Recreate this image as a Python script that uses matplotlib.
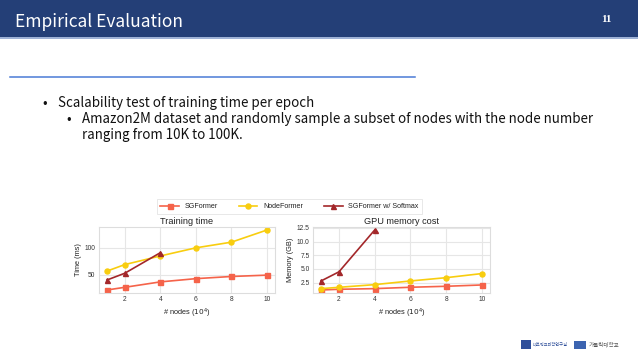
import matplotlib
matplotlib.use('Agg')
from matplotlib import pyplot as plt
from matplotlib.patches import Rectangle

W, H = 638, 359

# 데이터
nodes = [1, 2, 4, 6, 8, 10]
nodes_softmax = [1, 2, 4]
time_sgformer = [22, 27, 37, 43, 47, 49.5]
time_nodeformer = [57, 69, 85, 100, 110.5, 133]
time_softmax = [40.5, 53, 91]
mem_sgformer = [1.15, 1.28, 1.4, 1.65, 1.83, 2.07]
mem_nodeformer = [1.4, 1.64, 2.13, 2.8, 3.4, 4.15]
mem_softmax = [2.8, 4.46, 12.1]
series_names = ['SGFormer', 'NodeFormer', 'SGFormer w/ Softmax']
colors = ['#f5634a', '#f8cd0f', '#a3272a']
markers = ['s', 'o', '^']

slide_font = ['Noto Sans CJK KR', 'DejaVu Sans']
chart_font = ['Liberation Sans', 'DejaVu Sans']


def px(x, y, w=0, h=0):
    # 픽셀 좌표 -> figure 좌표 (y는 위에서 아래)
    return [x / W, 1 - (y + h) / H, w / W, h / H]


fig = plt.figure(figsize=(W / 100, H / 100), dpi=100)
fig.patch.set_facecolor('white')

## 제목 바
fig.patches.append(Rectangle((0, 1 - 37 / H), 1, 37 / H, transform=fig.transFigure,
                             facecolor='#243f77', edgecolor='none'))
fig.patches.append(Rectangle((0, 1 - 38.5 / H), 1, 1.5 / H, transform=fig.transFigure,
                             facecolor='#9fb2d6', edgecolor='none'))
fig.text(15 / W, 1 - 22 / H, 'Empirical Evaluation', color='white', fontsize=12.5,
         family=slide_font, va='center', ha='left')
fig.text(606 / W, 1 - 20 / H, '11', color='white', fontsize=8, family='Liberation Serif',
         fontweight='bold', va='center', ha='center')

# 파란 선
fig.add_artist(plt.Line2D([10 / W, 415 / W], [1 - 77 / H, 1 - 77 / H], color='#4a7ad6',
                          linewidth=1.1, transform=fig.transFigure))

# 본문
txt = dict(family=slide_font, color='#111111', fontsize=9.6, va='center', ha='left')
fig.text(42 / W, 1 - 103 / H, '•', **txt)
fig.text(58 / W, 1 - 103 / H, 'Scalability test of training time per epoch', **txt)
fig.text(66 / W, 1 - 119 / H, '•', **txt)
fig.text(82 / W, 1 - 119 / H,
         'Amazon2M dataset and randomly sample a subset of nodes with the node number', **txt)
fig.text(82 / W, 1 - 134.5 / H, 'ranging from 10K to 100K.', **txt)

# 차트
ax1 = fig.add_axes(px(99, 227, 176, 66))
ax2 = fig.add_axes(px(313, 227, 177, 66))

panels = [
    (ax1, [time_sgformer, time_nodeformer, time_softmax], 'Training time', 'Time (ms)', [50, 100]),
    (ax2, [mem_sgformer, mem_nodeformer, mem_softmax], 'GPU memory cost', 'Memory (GB)',
     [2.5, 5.0, 7.5, 10.0, 12.5]),
]
for ax, ys, title, ylabel, yticks in panels:
    for i, yv in enumerate(ys):
        xs = nodes if len(yv) == len(nodes) else nodes_softmax
        ax.plot(xs, yv, color=colors[i], marker=markers[i], markersize=3.6, linewidth=1.2,
                label=series_names[i])
    ax.set_xticks([2, 4, 6, 8, 10])
    ax.set_yticks(yticks)
    if ax is ax2:
        ax.set_yticklabels(['{:.1f}'.format(v) for v in yticks])
    ax.grid(True, color='#e6e6e6', linewidth=0.8)
    ax.set_axisbelow(True)
    for s in ax.spines.values():
        s.set_color('#dddddd')
        s.set_linewidth(0.8)
    ax.tick_params(length=0, labelsize=4.8, labelcolor='#333333', pad=2.5)
    for lab in ax.get_xticklabels() + ax.get_yticklabels():
        lab.set_family(chart_font)
    ax.set_title(title, fontsize=6.6, family=chart_font, color='#222222', pad=2)
    ax.set_ylabel(ylabel, fontsize=5.3, family=chart_font, color='#222222', labelpad=2)
    ax.set_xlabel('# nodes ($10^4$)', fontsize=5.3, family=chart_font, color='#222222',
                  labelpad=2)

handles, labels = ax1.get_legend_handles_labels()
leg = fig.legend(handles, labels, loc='center', ncol=3,
                 bbox_to_anchor=(289.5 / W, 1 - 206.5 / H),
                 prop={'family': chart_font, 'size': 5.1}, frameon=True,
                 edgecolor='#dddddd', fancybox=False, handlelength=2.6, columnspacing=3.0,
                 borderpad=0.5, handletextpad=0.8)
leg.get_frame().set_linewidth(0.6)
for t in leg.get_texts():
    t.set_color('#222222')

# 로고
fig.patches.append(Rectangle((521 / W, 1 - 349 / H), 10 / W, 9 / H, transform=fig.transFigure,
                             facecolor='#2f4f9a', edgecolor='none'))
fig.text(533 / W, 1 - 344.5 / H, '네트워크과학연구실', fontsize=3, family=slide_font,
         color='#2f4f9a', va='center', ha='left')
fig.patches.append(Rectangle((574 / W, 1 - 349 / H), 12 / W, 8 / H, transform=fig.transFigure,
                             facecolor='#3c64b0', edgecolor='none'))
fig.text(589 / W, 1 - 344.5 / H, '가톨릭대학교', fontsize=4, family=slide_font,
         color='#555555', va='center', ha='left')

fig.savefig('out.png', dpi=100)
